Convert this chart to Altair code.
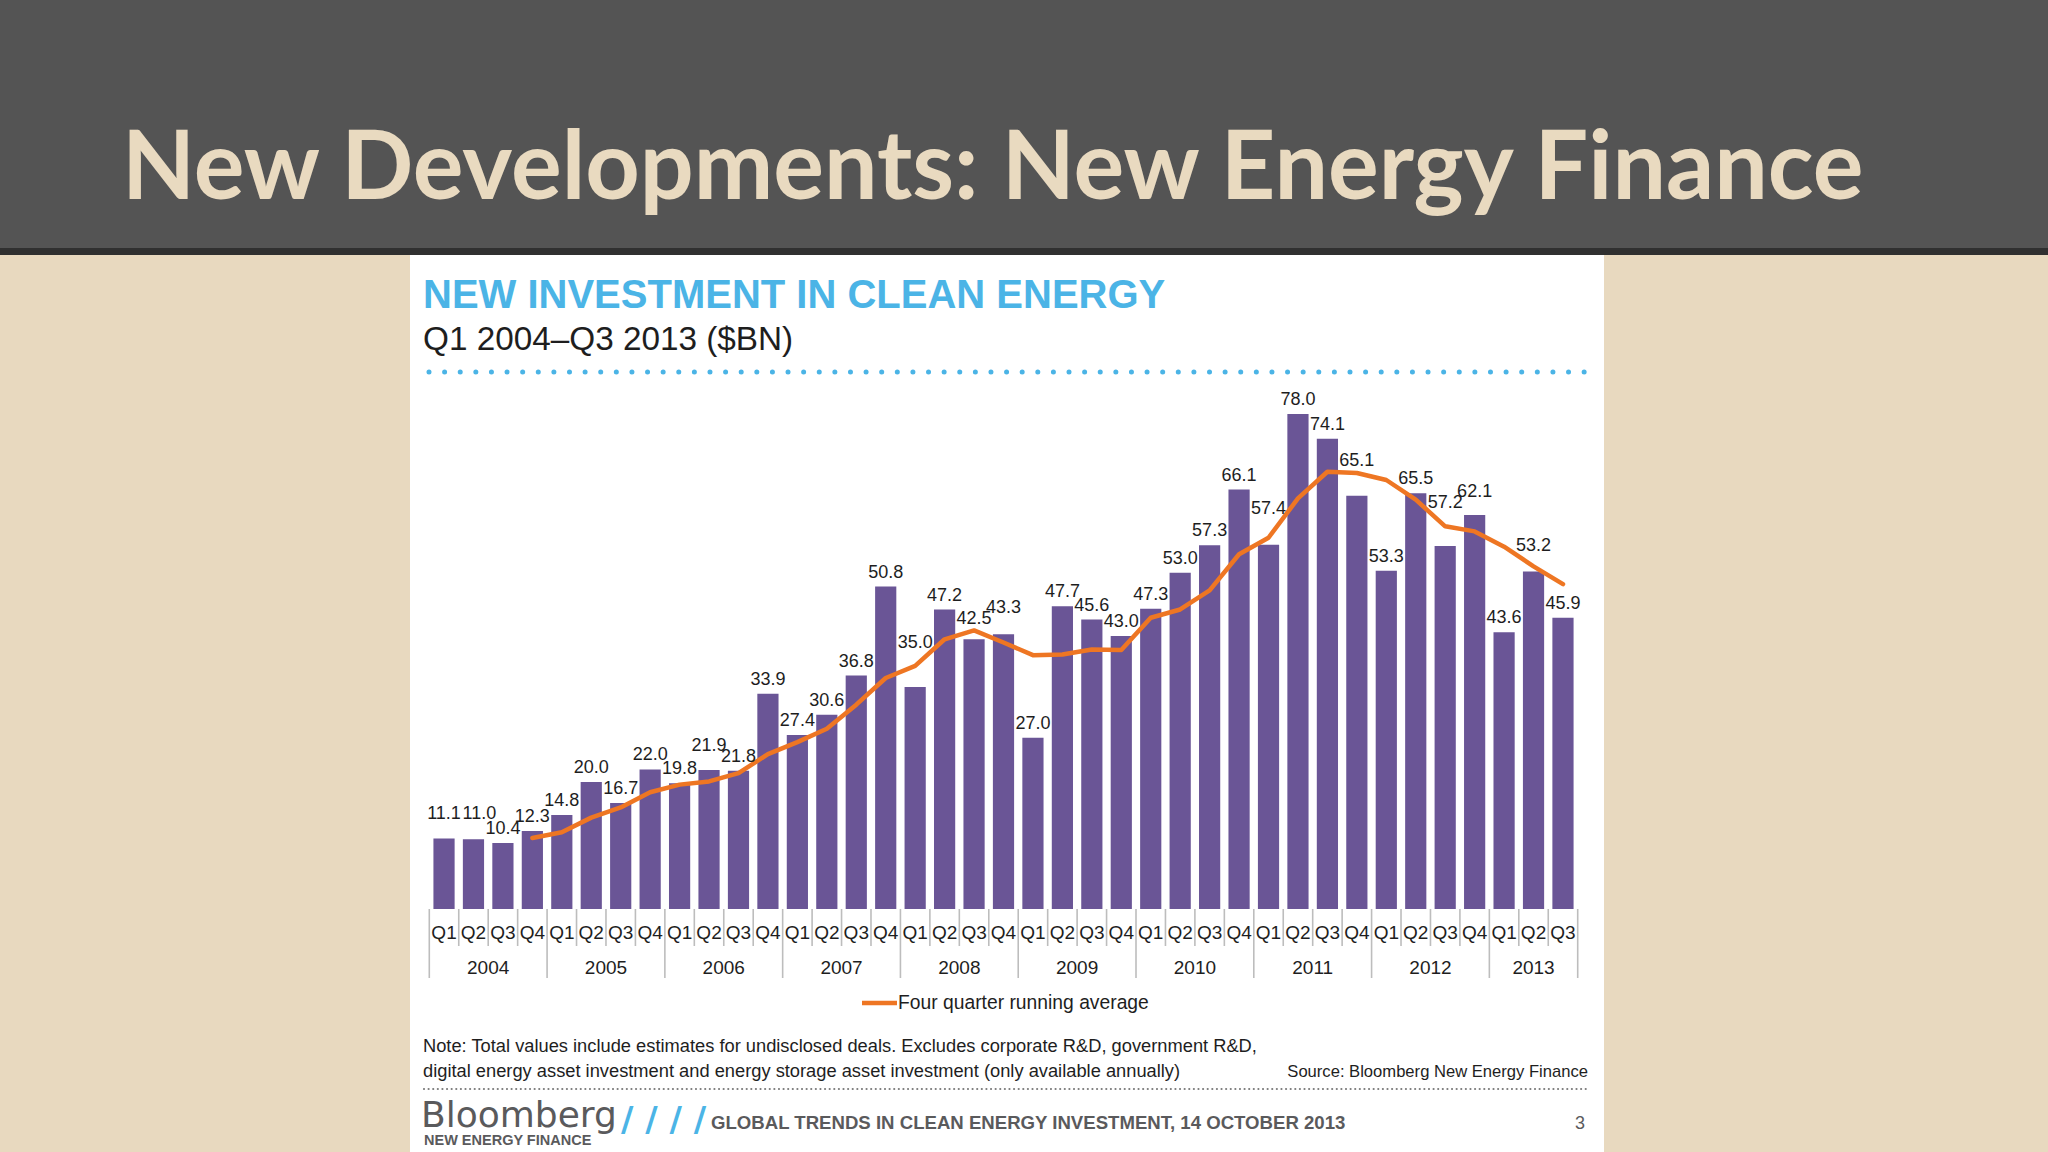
import altair as alt
import pandas as pd

# ---- data ---------------------------------------------------------------
quarter_labels = ["Q1", "Q2", "Q3", "Q4"] * 9 + ["Q1", "Q2", "Q3"]
year_of_quarter = [str(y) for y in range(2004, 2013) for _ in range(4)] + ["2013"] * 3
investment_bn = [
    11.1, 11.0, 10.4, 12.3,
    14.8, 20.0, 16.7, 22.0,
    19.8, 21.9, 21.8, 33.9,
    27.4, 30.6, 36.8, 50.8,
    35.0, 47.2, 42.5, 43.3,
    27.0, 47.7, 45.6, 43.0,
    47.3, 53.0, 57.3, 66.1,
    57.4, 78.0, 74.1, 65.1,
    53.3, 65.5, 57.2, 62.1,
    43.6, 53.2, 45.9,
]
running_avg_bn = [
    None, None, None, 11.2,
    12.1, 14.4, 16.0, 18.4,
    19.6, 20.1, 21.4, 24.4,
    26.3, 28.4, 32.2, 36.4,
    38.3, 42.5, 43.9, 42.0,
    40.0, 40.1, 40.9, 40.8,
    45.9, 47.2, 50.2, 55.9,
    58.5, 64.7, 68.9, 68.7,
    67.6, 64.5, 60.3, 59.5,
    57.1, 54.0, 51.2,
]

# ---- colours & fonts ----------------------------------------------------
SLIDE_BG = "#E8D9BF"
HEADER = "#545454"
HEADER_EDGE = "#303030"
TITLE_COL = "#E9DAC0"
BLUE = "#4BB4E6"
PURPLE = "#6A5596"
ORANGE = "#EE7623"
INK = "#1E1E1E"
GREY_TXT = "#5A5A5C"
SEP = "#BDBDBD"
SANS = "Liberation Sans, Arial, Helvetica, sans-serif"

n = len(investment_bn)

# label centre (in data units): just above the bar, or lifted above the
# running-average line where the line would run through the label
HALF_SPAN = 0.45
label_y = []
for i, v in enumerate(investment_bn):
    centre = v + 2.2
    a = running_avg_bn[i]
    if a is not None:
        pts = [a]
        for j in (i - 1, i + 1):
            if 0 <= j < n and running_avg_bn[j] is not None:
                pts.append(a + HALF_SPAN * (running_avg_bn[j] - a))
        if min(pts) < centre + 1.2 and max(pts) > centre - 1.2:
            centre = max(pts) + 1.8
    label_y.append(centre)

# neighbouring labels that sit at nearly the same height: lift the one
# belonging to the taller bar above the other
for i in range(1, n):
    if abs(label_y[i] - label_y[i - 1]) < 1.6:
        if investment_bn[i] > investment_bn[i - 1]:
            label_y[i] = label_y[i - 1] + 1.7
        else:
            label_y[i - 1] = label_y[i] + 1.7

# any pair still level after lifting: put both on one line and ease the
# right-hand label sideways
label_x = [float(i) for i in range(n)]
for i in range(1, n):
    if abs(label_y[i] - label_y[i - 1]) < 1.6:
        top = max(label_y[i], label_y[i - 1])
        label_y[i] = label_y[i - 1] = top
        label_x[i] += 0.2

bars = pd.DataFrame({
    "idx": range(n),
    "quarter": quarter_labels,
    "year": year_of_quarter,
    "value": investment_bn,
    "avg": running_avg_bn,
    "label_x": label_x,
    "label_y": label_y,
})

edges = pd.DataFrame({"edge": [i - 0.5 for i in range(n + 1)]})
edges["kind"] = ["year" if (i % 4 == 0 or i == n) else "quarter" for i in range(n + 1)]

years = bars.groupby("year", as_index=False)["idx"].mean()

X = alt.Scale(domain=[-0.5, n - 0.5], range=[429.3, 1577.7], nice=False, zero=False)
Y = alt.Scale(domain=[0, 78], range=[909, 414], nice=False, zero=False)

one = pd.DataFrame({"k": [0]})


def box(x, x2, y, y2, color):
    return alt.Chart(one).mark_rect(color=color).encode(
        x=alt.value(x), x2=alt.value(x2), y=alt.value(y), y2=alt.value(y2)
    )


def label(text, x, y, size, color=INK, font=SANS, weight="normal", align="left",
          baseline="alphabetic"):
    return alt.Chart(pd.DataFrame({"t": [text]})).mark_text(
        font=font, fontSize=size, fontWeight=weight, color=color,
        align=align, baseline=baseline,
    ).encode(x=alt.value(x), y=alt.value(y), text="t:N")


# ---- slide frame --------------------------------------------------------
header = box(0, 2048, 0, 248, HEADER)
header_edge = box(0, 2048, 248, 255, HEADER_EDGE)
panel = box(410, 1604, 255, 1152, "#FFFFFF")
slide_title = label("New Developments: New Energy Finance", 122, 199, 95,
                    color=TITLE_COL, font="Lato, Open Sans, sans-serif", weight="bold")

# ---- chart heading ------------------------------------------------------
chart_title = label("NEW INVESTMENT IN CLEAN ENERGY", 423, 308, 40, color=BLUE,
                    weight="bold")
chart_sub = label("Q1 2004\u2013Q3 2013 ($BN)", 423, 350, 33.3)
blue_dots = alt.Chart(one).mark_rule(
    color=BLUE, strokeWidth=5, strokeDash=[0.01, 15.6], strokeCap="round"
).encode(x=alt.value(429), x2=alt.value(1588), y=alt.value(372))

# ---- bars, line, labels -------------------------------------------------
base = alt.Chart(bars)

bar_layer = base.transform_calculate(
    x0="datum.idx - 0.36", x1="datum.idx + 0.36"
).mark_bar(color=PURPLE).encode(
    x=alt.X("x0:Q", scale=X, axis=None),
    x2="x1:Q",
    y=alt.Y("value:Q", scale=Y, axis=None),
    y2=alt.datum(0),
)

avg_line = base.transform_filter("isValid(datum.avg)").mark_line(
    color=ORANGE, strokeWidth=4.5, strokeJoin="round", strokeCap="round"
).encode(
    x=alt.X("idx:Q", scale=X, axis=None),
    y=alt.Y("avg:Q", scale=Y, axis=None),
)

value_labels = base.mark_text(
    font=SANS, fontSize=18, color=INK, baseline="middle"
).encode(
    x=alt.X("label_x:Q", scale=X, axis=None),
    y=alt.Y("label_y:Q", scale=Y, axis=None),
    text=alt.Text("value:Q", format=".1f"),
)

# ---- two-level category axis --------------------------------------------
q_seps = alt.Chart(edges).transform_filter("datum.kind == 'quarter'").mark_rule(
    color=SEP, strokeWidth=1.6
).encode(x=alt.X("edge:Q", scale=X, axis=None), y=alt.value(909), y2=alt.value(946))

y_seps = alt.Chart(edges).transform_filter("datum.kind == 'year'").mark_rule(
    color=SEP, strokeWidth=1.6
).encode(x=alt.X("edge:Q", scale=X, axis=None), y=alt.value(909), y2=alt.value(978))

q_text = base.mark_text(font=SANS, fontSize=19, color=INK, baseline="middle").encode(
    x=alt.X("idx:Q", scale=X, axis=None), y=alt.value(933), text="quarter:N"
)

year_text = alt.Chart(years).mark_text(
    font=SANS, fontSize=19, color=INK, baseline="middle"
).encode(x=alt.X("idx:Q", scale=X, axis=None), y=alt.value(968), text="year:N")

# ---- legend -------------------------------------------------------------
legend_swatch = alt.Chart(one).mark_rule(color=ORANGE, strokeWidth=4.5).encode(
    x=alt.value(862), x2=alt.value(897), y=alt.value(1003)
)
legend_text = label("Four quarter running average", 898, 1003, 19.3, baseline="middle")

# ---- notes and footer ---------------------------------------------------
note1 = label("Note: Total values include estimates for undisclosed deals. "
              "Excludes corporate R&D, government R&D,", 423, 1052, 18.3)
note2 = label("digital energy asset investment and energy storage asset investment "
              "(only available annually)", 423, 1077, 18.3)
source = label("Source: Bloomberg New Energy Finance", 1588, 1077, 16.6, align="right")
grey_dots = alt.Chart(one).mark_rule(
    color="#7A7A7A", strokeWidth=2.2, strokeDash=[0.01, 4.6], strokeCap="round"
).encode(x=alt.value(424), x2=alt.value(1588), y=alt.value(1089))

logo_word = label("Bloomberg", 421, 1127, 36, color=GREY_TXT, font="DejaVu Sans, sans-serif")
logo_sub = label("NEW ENERGY FINANCE", 424, 1145, 14.5, color=GREY_TXT, weight="bold")
logo_slashes = label("/ / / /", 621, 1131, 34, color=BLUE,
                     font="DejaVu Sans, sans-serif", weight="bold")
footer_text = label("GLOBAL TRENDS IN CLEAN ENERGY INVESTMENT,  14 OCTOBER 2013",
                    711, 1129, 18.6, color=GREY_TXT, weight="bold")
page_no = label("3", 1585, 1129, 18, color=GREY_TXT, align="right")

chart = alt.layer(
    header, header_edge, panel, slide_title,
    chart_title, chart_sub, blue_dots,
    bar_layer, q_seps, y_seps, q_text, year_text,
    avg_line, value_labels,
    legend_swatch, legend_text,
    note1, note2, source, grey_dots,
    logo_word, logo_sub, logo_slashes, footer_text, page_no,
).properties(
    width=2048, height=1152, padding=0,
    autosize=alt.AutoSizeParams(type="none"),
    background=SLIDE_BG,
).configure_view(stroke=None)

chart.save("out.html", embed_options={"renderer": "svg", "actions": False})
